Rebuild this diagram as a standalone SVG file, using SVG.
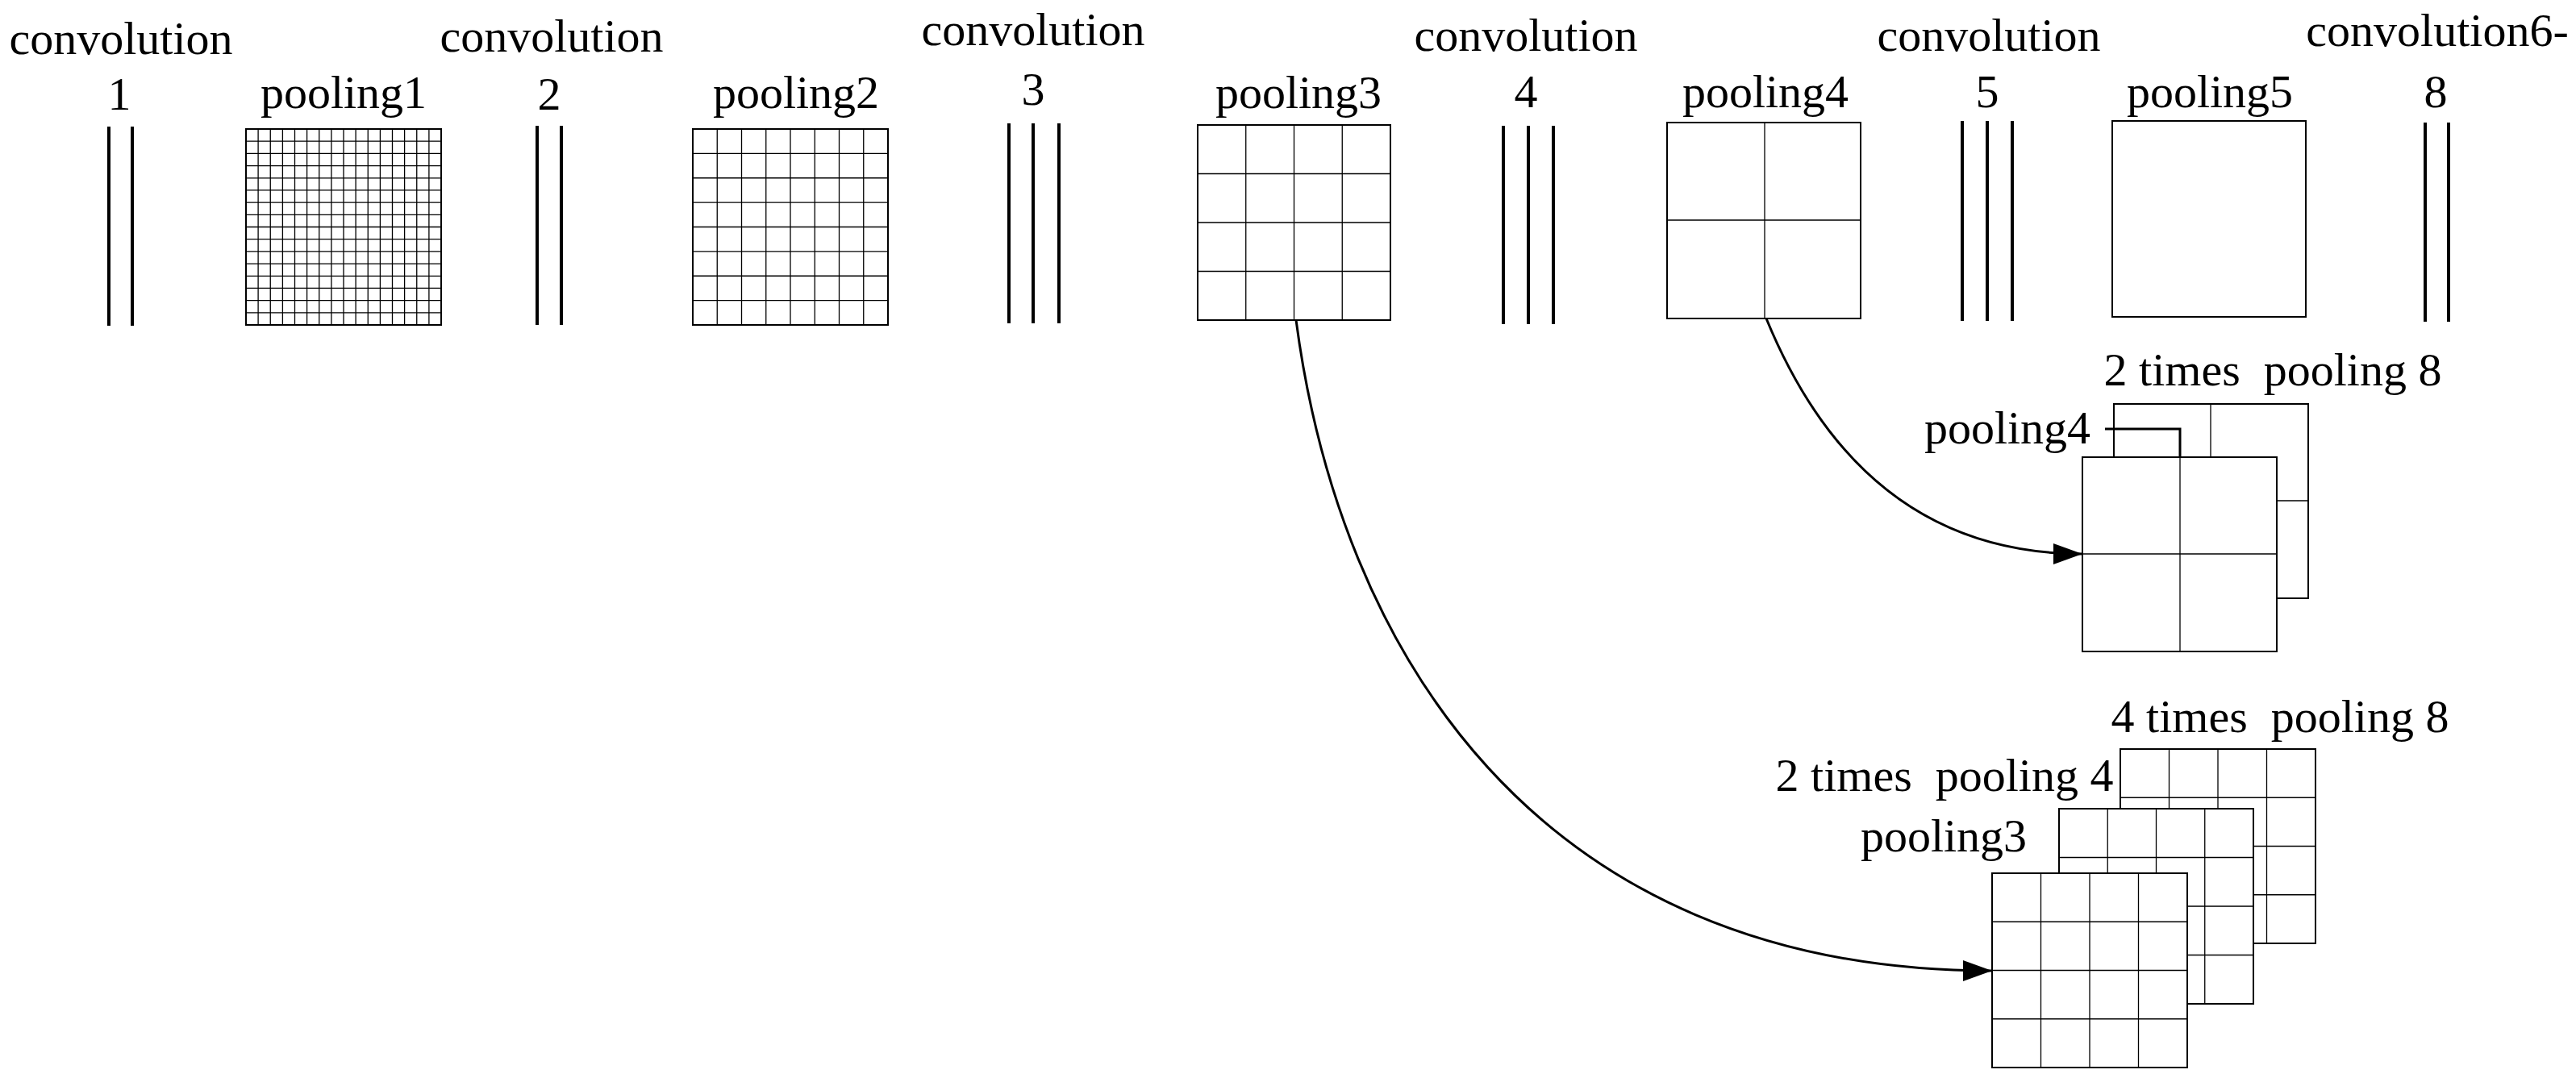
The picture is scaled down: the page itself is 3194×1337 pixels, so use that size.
<svg xmlns="http://www.w3.org/2000/svg" width="3194" height="1337" viewBox="0 0 3194 1337">
<style>
text{font-family:"Liberation Serif","Times New Roman",serif;font-size:58px;fill:#000;text-anchor:middle;white-space:pre}
.cv{stroke:#000;stroke-width:4}
.bx{fill:#fff;stroke:#000;stroke-width:2}
.gl{stroke:#000;stroke-width:1.3;fill:none}
.cn{fill:none;stroke:#000;stroke-width:3}
</style>
<defs>
<marker id="ah" markerUnits="userSpaceOnUse" markerWidth="40" markerHeight="30" refX="36" refY="13" orient="auto">
<path d="M0,0 L36,13 L0,26 Z" fill="#000"/>
</marker>
</defs>
<rect width="3194" height="1337" fill="#fff"/>
<g id="conv1"><text x="150" y="67">convolution</text><text x="148" y="136">1</text>
<line class="cv" x1="135" y1="157" x2="135" y2="404"/><line class="cv" x1="164" y1="157" x2="164" y2="404"/></g>
<g id="pool1"><text x="426" y="134">pooling1</text>
<rect class="bx" x="305" y="160" width="242" height="243"/>
<path class="gl" d="M320.1,160V403M335.25,160V403M350.4,160V403M365.5,160V403M380.6,160V403M395.75,160V403M410.9,160V403M426,160V403M441.1,160V403M456.25,160V403M471.4,160V403M486.5,160V403M501.6,160V403M516.75,160V403M531.9,160V403
M305,175.2H547M305,190.4H547M305,205.6H547M305,220.8H547M305,235.9H547M305,251.1H547M305,266.3H547M305,281.5H547M305,296.7H547M305,311.9H547M305,327.1H547M305,342.3H547M305,357.4H547M305,372.6H547M305,387.8H547"/></g>
<g id="conv2"><text x="684" y="64">convolution</text><text x="681" y="136">2</text>
<line class="cv" x1="666" y1="156" x2="666" y2="403"/><line class="cv" x1="696" y1="156" x2="696" y2="403"/></g>
<g id="pool2"><text x="987" y="134">pooling2</text>
<rect class="bx" x="859" y="160" width="242" height="243"/>
<path class="gl" d="M889.25,160V403M919.5,160V403M949.75,160V403M980,160V403M1010.25,160V403M1040.5,160V403M1070.75,160V403
M859,190.4H1101M859,220.75H1101M859,251.1H1101M859,281.5H1101M859,311.9H1101M859,342.25H1101M859,372.6H1101"/></g>
<g id="conv3"><text x="1281" y="56">convolution</text><text x="1281" y="130">3</text>
<line class="cv" x1="1251" y1="153" x2="1251" y2="401"/><line class="cv" x1="1281" y1="153" x2="1281" y2="401"/><line class="cv" x1="1313" y1="153" x2="1313" y2="401"/></g>
<g id="pool3"><text x="1610" y="134">pooling3</text>
<rect class="bx" x="1485" y="155" width="239" height="242"/>
<path class="gl" d="M1544.75,155V397M1604.5,155V397M1664.25,155V397M1485,215.5H1724M1485,276H1724M1485,336.5H1724"/></g>
<g id="conv4"><text x="1892" y="63">convolution</text><text x="1892" y="133">4</text>
<line class="cv" x1="1864" y1="156" x2="1864" y2="402"/><line class="cv" x1="1895" y1="156" x2="1895" y2="402"/><line class="cv" x1="1926" y1="156" x2="1926" y2="402"/></g>
<g id="pool4"><text x="2189" y="133">pooling4</text>
<rect class="bx" x="2067" y="152" width="240" height="243"/>
<path class="gl" d="M2188,152V395M2067,273H2307"/></g>
<g id="conv5"><text x="2466" y="63">convolution</text><text x="2464" y="133">5</text>
<line class="cv" x1="2433" y1="150" x2="2433" y2="398"/><line class="cv" x1="2464" y1="150" x2="2464" y2="398"/><line class="cv" x1="2495" y1="150" x2="2495" y2="398"/></g>
<g id="pool5"><text x="2740" y="133">pooling5</text>
<rect class="bx" x="2619" y="150" width="240" height="243"/></g>
<g id="conv68"><text x="3022" y="57">convolution6-</text><text x="3020" y="133">8</text>
<line class="cv" x1="3007" y1="152" x2="3007" y2="399"/><line class="cv" x1="3036" y1="152" x2="3036" y2="399"/></g>
<g id="stack1">
<text x="2818" y="478" xml:space="preserve">2 times  pooling 8</text>
<rect class="bx" x="2621" y="501" width="241" height="241"/>
<path class="gl" d="M2741,501V742M2621,621H2862"/>
<rect class="bx" x="2582" y="567" width="241" height="241"/>
<path class="gl" d="M2703,567V808M2582,687H2823"/>
<text x="2489" y="550">pooling4</text>
<path d="M2610,532H2703V567" fill="none" stroke="#000" stroke-width="3"/>
</g>
<g id="stack2">
<text x="2827" y="908" xml:space="preserve">4 times  pooling 8</text>
<rect class="bx" x="2629" y="929" width="242" height="241"/>
<path class="gl" d="M2689.5,929V1170M2750,929V1170M2810.5,929V1170M2629,989.25H2871M2629,1049.5H2871M2629,1109.75H2871"/>
<text x="2411" y="981" xml:space="preserve">2 times  pooling 4</text>
<rect class="bx" x="2553" y="1003" width="241" height="242"/>
<path class="gl" d="M2613.25,1003V1245M2673.5,1003V1245M2733.75,1003V1245M2553,1063.5H2794M2553,1124H2794M2553,1184.5H2794"/>
<text x="2410" y="1056">pooling3</text>
<rect class="bx" x="2470" y="1083" width="242" height="241"/>
<path class="gl" d="M2530.5,1083V1324M2591,1083V1324M2651.5,1083V1324M2470,1143.25H2712M2470,1203.5H2712M2470,1263.75H2712"/>
</g>
<g id="connectors">
<path class="cn" d="M1607,397 C1660,800 1900,1204 2470,1204" marker-end="url(#ah)"/>
<path class="cn" d="M2190,395 C2270,590 2400,687 2582,687" marker-end="url(#ah)"/>
</g>
</svg>
